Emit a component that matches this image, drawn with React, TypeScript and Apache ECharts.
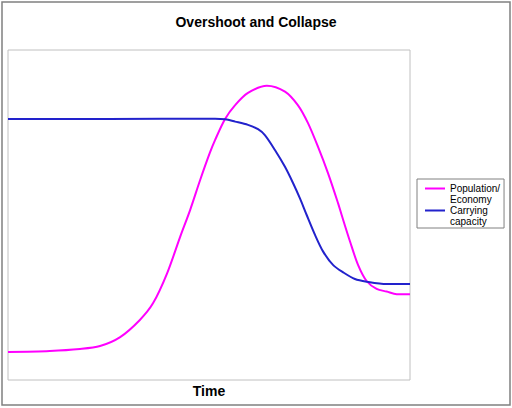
import React, { useEffect, useRef } from "react";
import * as echarts from "echarts";

const TITLE = "Overshoot and Collapse";
const X_NAME = "Time";
const SERIES_NAMES = ["Population/\nEconomy", "Carrying\ncapacity"];

const popTime = [0, 10.4, 17.9, 22.9, 27.9, 32.8, 36.1, 39.6, 42.8, 45.3, 47.8, 50.2, 51.5, 54.0, 56.5, 59.7, 64.4, 68.9, 72.1, 74.6, 77.1, 79.6, 82.1, 83.0, 85.1, 87.1, 89.2, 91.7, 94.2, 96.7, 100];
const popValues = [8.5, 8.8, 9.4, 10.3, 13.0, 18.2, 23.3, 32.4, 43.3, 51.5, 60.6, 68.8, 72.7, 79.1, 83.3, 87.0, 89.2, 87.4, 83.3, 77.9, 70.7, 62.7, 53.6, 50.0, 41.9, 34.8, 30.0, 27.6, 26.8, 26.0, 26.0];

const capTime = [0, 25, 51.5, 54.0, 56.5, 59.7, 62.2, 63.9, 66.4, 68.9, 70.9, 72.6, 74.3, 76.4, 78.4, 80.9, 83.4, 86.3, 89.2, 94.2, 100];
const capValues = [79.1, 79.1, 79.2, 79.0, 78.3, 77.3, 76.0, 74.2, 69.7, 64.6, 59.7, 55.1, 50.0, 43.9, 38.9, 34.8, 32.6, 30.6, 29.8, 29.1, 29.1];

const COLORS = ["#ff00ff", "#2222cc"];
const FONT = "'Liberation Sans', Arial, sans-serif";

function pairs(xs: number[], ys: number[]) {
  return xs.map((x, i) => [x, ys[i]]);
}

export default function App() {
  const ref = useRef<HTMLDivElement>(null);
  useEffect(() => {
    if (!ref.current) return;
    const chart = echarts.init(ref.current, null, { renderer: "svg" });
    const icon =
      "path://M0,4.6H20V6.4H0Z M0,0H0.01V0.01H0Z M19.99,21.99H20V22H19.99Z";
    chart.setOption({
      animation: false,
      backgroundColor: "#ffffff",
      textStyle: { fontFamily: FONT },
      title: {
        text: TITLE,
        left: "center",
        top: 10,
        textStyle: { fontSize: 14, fontWeight: "bold", color: "#000", fontFamily: FONT },
      },
      graphic: [
        {
          type: "rect",
          shape: { x: 2, y: 2, width: 508, height: 403 },
          style: { fill: "none", stroke: "#808080", lineWidth: 1.5 },
          silent: true,
        },
      ],
      legend: {
        orient: "vertical",
        left: 417,
        top: 179,
        padding: [4, 4, 1, 8],
        itemGap: 0,
        itemWidth: 20,
        itemHeight: 22,
        icon,
        symbolKeepAspect: false,
        itemStyle: { borderWidth: 0 },
        borderColor: "#808080",
        borderWidth: 1,
        textStyle: { fontSize: 10, lineHeight: 11, color: "#000", fontFamily: FONT },
        data: SERIES_NAMES,
      },
      grid: {
        left: 8,
        top: 50,
        right: 102,
        bottom: 28,
        show: true,
        borderColor: "#c0c0c0",
        borderWidth: 1,
        backgroundColor: "#fff",
      },
      xAxis: {
        type: "value",
        min: 0,
        max: 100,
        name: X_NAME,
        nameLocation: "middle",
        nameGap: 4,
        nameTextStyle: { fontSize: 14, fontWeight: "bold", color: "#000", fontFamily: FONT, verticalAlign: "top" },
        axisLine: { show: false },
        axisTick: { show: false },
        axisLabel: { show: false },
        splitLine: { show: false },
      },
      yAxis: {
        type: "value",
        min: 0,
        max: 100,
        axisLine: { show: false },
        axisTick: { show: false },
        axisLabel: { show: false },
        splitLine: { show: false },
      },
      series: [
        {
          name: SERIES_NAMES[0],
          type: "line",
          data: pairs(popTime, popValues),
          smooth: 0.3,
          symbol: "none",
          color: COLORS[0],
          lineStyle: { color: COLORS[0], width: 2 },
        },
        {
          name: SERIES_NAMES[1],
          type: "line",
          data: pairs(capTime, capValues),
          smooth: 0.3,
          symbol: "none",
          color: COLORS[1],
          lineStyle: { color: COLORS[1], width: 2 },
        },
      ],
    });
    return () => chart.dispose();
  }, []);
  return (
    <div
      ref={ref}
      style={{ position: "fixed", left: 0, top: 0, width: 512, height: 408, background: "#fff" }}
    />
  );
}
